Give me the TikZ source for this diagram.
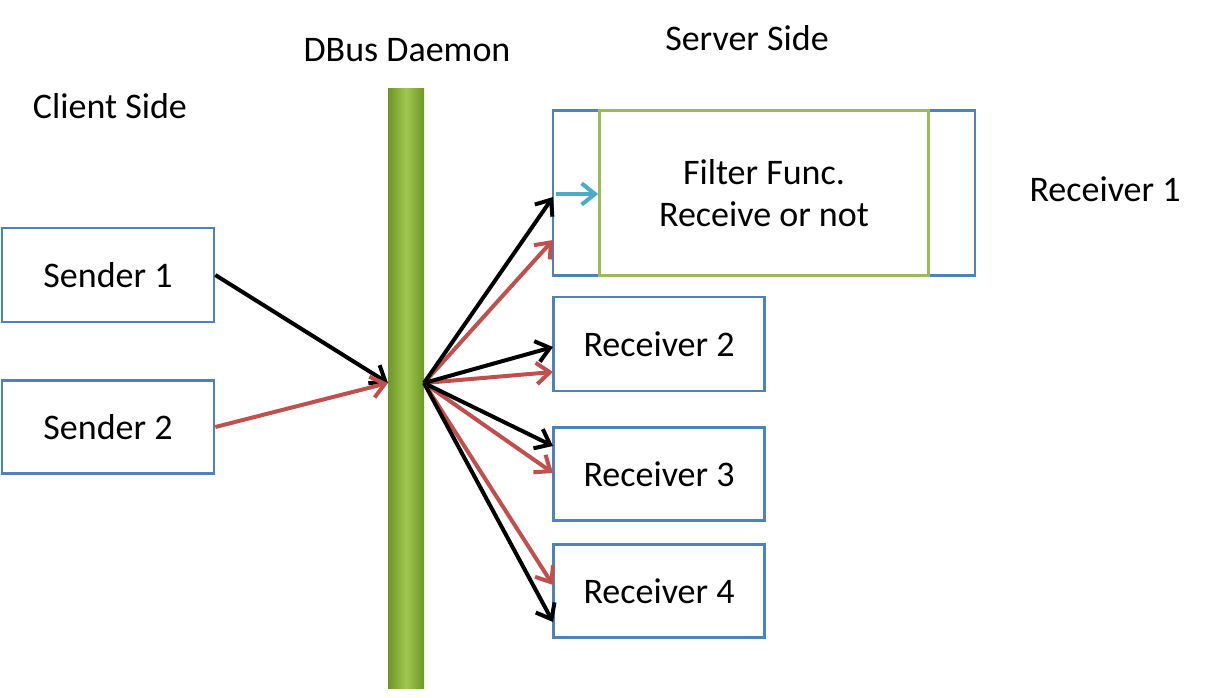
\documentclass[tikz,border=0pt]{standalone}
\usepackage{fontspec}
\setmainfont{Carlito}
\usetikzlibrary{arrows.meta,
                positioning,
                calc}
\definecolor{boxblue}{RGB}{79,129,189}
\definecolor{barlight}{RGB}{160,200,80}
\definecolor{bardark}{RGB}{110,150,40}
\definecolor{msgred}{RGB}{192,80,77}
\definecolor{filtcyan}{RGB}{75,172,198}
\definecolor{filtgreen}{RGB}{155,187,89}
\tikzset{box/.style =
   {rectangle,
    draw=boxblue,
    line width=2pt,
    text centered,
    font=\fontsize{27}{32}\selectfont}}
\tikzset{label-text/.style = {font=\fontsize{27}{32}\selectfont}}
\tikzset{msg/.style = {draw, line width=3pt, -{Straight Barb[length=10pt,width=16pt]}}}

\begin{document}
\begin{tikzpicture}[x=0.75pt,y=-0.75pt]
    \useasboundingbox (0,0) rectangle (1206,697);

    \node [box, minimum width=159pt, minimum height=70.5pt] (sender1) at (108,275) {Sender 1};
    \node [box, minimum width=159pt, minimum height=70pt] (sender2) at (108,427) {Sender 2};

    % daemon bar
    \shade [left color=bardark, right color=bardark, middle color=barlight]
        (388,88) rectangle (424,688);
    \coordinate (hubin) at (388,383);
    \coordinate (hubout) at (424,383);

    \node [box, minimum width=316.5pt, minimum height=123.75pt] (recv1) at (764,193) {};
    \node [rectangle, draw=filtgreen, line width=2pt,
           minimum width=246.75pt, minimum height=123.75pt, label-text, align=center]
           (filter) at (764,193) {Filter Func.\\Receive or not};
    \node [box, minimum width=158.25pt, minimum height=70.5pt] (recv2) at (659,344) {Receiver 2};
    \node [box, minimum width=158.25pt, minimum height=70pt] (recv3) at (659,474) {Receiver 3};
    \node [box, minimum width=158.25pt, minimum height=70pt] (recv4) at (659,591) {Receiver 4};

    \node [label-text] (client) at (110,106) {Client Side};
    \node [label-text] (daemon) at (407,50) {DBus Daemon};
    \node [label-text] (server) at (747,38) {Server Side};
    \node [label-text] (r1name) at (1105,189) {Receiver 1};

    \coordinate (t1a) at (553,197);
    \coordinate (t1b) at (553,240);
    \coordinate (t2a) at (553,347);
    \coordinate (t2b) at (553,372);
    \coordinate (t3a) at (553,446);
    \coordinate (t3b) at (553,473);
    \coordinate (t4b) at (553,585);
    \coordinate (t4a) at (553,622);
    \coordinate (fstart) at (556,194);

    \draw [msg, black] (sender1.east) -- (hubin);
    \draw [msg, msgred] (sender2.east) -- (hubin);

    \foreach \t in {t1b,t2b,t3b,t4b}
        \draw [msg, msgred] (hubout) -- (\t);
    \foreach \t in {t1a,t2a,t3a,t4a}
        \draw [msg, black] (hubout) -- (\t);

    \draw [msg, filtcyan] (fstart) -- (filter.west |- fstart);
\end{tikzpicture}
\end{document}
